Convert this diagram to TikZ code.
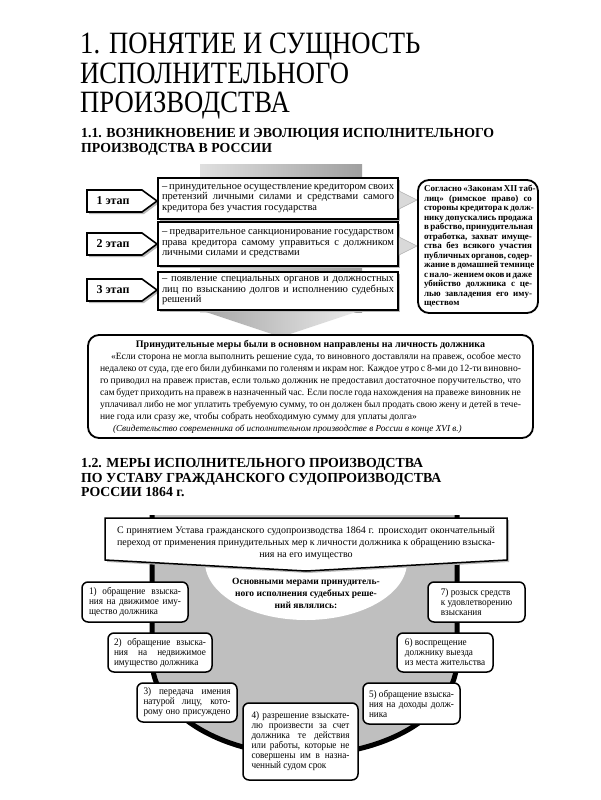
\documentclass[tikz,border=0pt]{standalone}
\usepackage{fontspec}
\setmainfont{Liberation Serif}
\newfontfamily\titlefont[FakeStretch=0.86]{Liberation Serif}
\newfontfamily\narrowfont[FakeStretch=0.92]{Liberation Serif}
\usetikzlibrary{shadows}
\newcommand\tbx[2]{\vbox{\hsize=#1pt\lineskiplimit=-100pt\relax #2}}
\newcommand\jline[1]{\hbox to\hsize{#1}}
\newcommand\eline[1]{\hbox{#1}}
\newcommand\centline[1]{\hbox to\hsize{\hfil#1\hfil}}
\begin{document}
\begin{tikzpicture}[x=1pt,y=-1pt,
  title/.style={anchor=base west,inner sep=0pt,font=\titlefont\fontsize{31}{31}\selectfont},
  head/.style={anchor=base west,inner sep=0pt,font=\bfseries\fontsize{13.8}{14}\selectfont},
  shad/.style={drop shadow={shadow xshift=2pt,shadow yshift=-2pt,fill=gray!55,opacity=1}},
  tbox/.style={draw,line width=1.4pt,fill=white,inner sep=0pt,font=\fontsize{10.5}{10.5}\selectfont,shad},
  stagebox/.style={draw,line width=1.6pt,fill=white,line join=miter,shad},
  stagetext/.style={inner sep=0pt,font=\bfseries\fontsize{12}{12}\selectfont},
  tri/.style={fill=gray!30,draw=gray!60,line width=0.5pt},
  rbox/.style={draw,line width=1.8pt,rounded corners=11pt,fill=white,inner sep=0pt},
  sbox/.style={draw,line width=1.5pt,rounded corners=6pt,fill=white,inner sep=0pt,font=\narrowfont\fontsize{10}{10}\selectfont},
  plain/.style={inner sep=0pt},
]
\useasboundingbox (0,0) rectangle (600,800);
\fill[white] (0,0) rectangle (600,800);

% headings
\node[title] (t1) at (80,53) {1. ПОНЯТИЕ И СУЩНОСТЬ};
\node[title] (t2) at (80,83) {ИСПОЛНИТЕЛЬНОГО};
\node[title] (t3) at (80,112) {ПРОИЗВОДСТВА};
\node[head] (h1) at (81,137) {1.1. ВОЗНИКНОВЕНИЕ И ЭВОЛЮЦИЯ ИСПОЛНИТЕЛЬНОГО};
\node[head] (h2) at (81,152) {ПРОИЗВОДСТВА В РОССИИ};
\node[head] (h3) at (81,467) {1.2. МЕРЫ ИСПОЛНИТЕЛЬНОГО ПРОИЗВОДСТВА};
\node[head] (h4) at (81,482) {ПО УСТАВУ ГРАЖДАНСКОГО СУДОПРОИЗВОДСТВА};
\node[head] (h5) at (81,496) {РОССИИ 1864 г.};

% ---------- section 1 ----------
\shade[left color=gray!25,right color=gray!75] (200,164) rectangle (362,312);
\shade[left color=gray!70,right color=gray!15] (200,310) -- (362,310) -- (281,337) -- cycle;

\path[stagebox] (87,190) -- (142,190) -- (157,201) -- (142,212) -- (87,212) -- cycle;
\node[stagetext] (s1) at (113,201) {1 этап};
\path[stagebox] (87,233) -- (142,233) -- (157,244) -- (142,255) -- (87,255) -- cycle;
\node[stagetext] (s2) at (113,244) {2 этап};
\path[stagebox] (87,279) -- (142,279) -- (157,290) -- (142,301) -- (87,301) -- cycle;
\node[stagetext] (s3) at (113,290) {3 этап};

\node[tbox,minimum width=240,minimum height=41] (e1) at (278,198.5) {\tbx{232}{%
\jline{– принудительное осуществление кредитором своих}
\jline{претензий личными силами и средствами самого}
\eline{кредитора без участия государства}}};
\node[tbox,minimum width=240,minimum height=44] (e2) at (278,244) {\tbx{232}{%
\jline{– предварительное санкционирование государством}
\jline{права кредитора самому управиться с должником}
\eline{личными силами и средствами}}};
\node[tbox,minimum width=240,minimum height=38] (e3) at (278,291) {\tbx{232}{%
\jline{– появление специальных органов и должностных}
\jline{лиц по взысканию долгов и исполнению судебных}
\eline{решений}}};

\path[tri] (399,191) -- (417,200) -- (399,209) -- cycle;
\path[tri] (399,237) -- (417,246) -- (399,255) -- cycle;

\node[rbox,minimum width=120,minimum height=133,font=\bfseries\fontsize{9}{9.5}\selectfont] (rb) at (478,246.5) {\tbx{108}{%
\jline{Согласно «Законам XII таб-}
\jline{лиц» (римское право) со}
\jline{стороны кредитора к долж-}
\jline{нику допускались продажа}
\jline{в рабство, принудительная}
\jline{отработка, захват имуще-}
\jline{ства без всякого участия}
\jline{публичных органов, содер-}
\jline{жание в домашней темнице}
\jline{с нало- жением оков и даже}
\jline{убийство должника с це-}
\jline{лью завладения его иму-}
\eline{ществом}}};

\node[rbox,minimum width=445,minimum height=103,font=\fontsize{9.6}{12}\selectfont] (bb) at (310.5,386.5) {\tbx{421}{%
\centline{\fontsize{10}{12}\selectfont\bfseries Принудительные меры были в основном направлены на личность должника}
\jline{\hspace*{11pt}«Если сторона не могла выполнить решение суда, то виновного доставляли на правеж, особое место}
\jline{недалеко от суда, где его били дубинками по голеням и икрам ног. Каждое утро с 8-ми до 12-ти виновно-}
\jline{го приводил на правеж пристав, если только должник не предоставил достаточное поручительство, что}
\jline{сам будет приходить на правеж в назначенный час. Если после года нахождения на правеже виновник не}
\jline{уплачивал либо не мог уплатить требуемую сумму, то он должен был продать свою жену и детей в тече-}
\eline{ние года или сразу же, чтобы собрать необходимую сумму для уплаты долга»}
\eline{\hspace*{13pt}\fontsize{9.2}{12}\selectfont\itshape (Свидетельство современника об исполнительном производстве в России в конце XVI в.)}}};

% ---------- section 2 ----------
\fill[gray!50] (152,515) -- (152,660) .. controls (152,712.5) and (220.3,755) .. (304.5,755) .. controls (388.7,755) and (457,712.5) .. (457,660) -- (457,515) -- cycle;
\fill[white] (205,540) -- (205,562) .. controls (205,594) and (250.2,620) .. (306,620) .. controls (361.8,620) and (407,594) .. (407,562) -- (407,540) -- cycle;
\draw[line width=5pt] (152,515) -- (152,660) .. controls (152,712.5) and (220.3,755) .. (304.5,755) .. controls (388.7,755) and (457,712.5) .. (457,660) -- (457,515);

\path[draw,line width=1.5pt,fill=white,line join=miter,shad] (105,518) -- (507,518) -- (507,560) -- (306,571) -- (105,560) -- cycle;
\node[plain,font=\fontsize{10}{11.7}\selectfont] (bn) at (306,543) {\tbx{378}{%
\jline{С принятием Устава гражданского судопроизводства 1864 г. происходит окончательный}
\jline{переход от применения принудительных мер к личности должника к обращению взыска-}
\centline{ния на его имущество}}};

\node[plain,font=\bfseries\fontsize{9.5}{12}\selectfont] (inr) at (306,593) {\tbx{160}{%
\centline{Основными мерами принудитель-}
\centline{ного исполнения судебных реше-}
\centline{ний являлись:}}};

\node[sbox,minimum width=106,minimum height=40] (m1) at (135,602) {\tbx{92}{%
\jline{1) обращение взыска-}
\jline{ния на движимое иму-}
\eline{щество должника}}};
\node[sbox,minimum width=104,minimum height=39] (m2) at (160,652.5) {\tbx{92}{%
\jline{2) обращение взыска-}
\jline{ния на недвижимое}
\eline{имущество должника}}};
\node[sbox,minimum width=100,minimum height=39] (m3) at (187,702.5) {\tbx{87}{%
\jline{3) передача имения}
\jline{натурой лицу, кото-}
\jline{рому оно присуждено}}};
\node[sbox,minimum width=115,minimum height=77] (m4) at (300.5,741.5) {\tbx{98}{%
\jline{4) разрешение взыскате-}
\jline{лю произвести за счет}
\jline{должника те действия}
\jline{или работы, которые не}
\jline{совершены им в назна-}
\eline{ченный судом срок}}};
\node[sbox,minimum width=97,minimum height=41] (m5) at (411.5,703.5) {\tbx{85}{%
\jline{5) обращение взыска-}
\jline{ния на доходы долж-}
\eline{ника}}};
\node[sbox,minimum width=96,minimum height=39] (m6) at (445,652.5) {\tbx{82}{%
\eline{6) воспрещение}
\eline{должнику выезда}
\eline{из места жительства}}};
\node[sbox,minimum width=97,minimum height=40] (m7) at (476.5,602) {\tbx{80}{%
\eline{7) розыск средств}
\eline{к удовлетворению}
\eline{взыскания}}};
\end{tikzpicture}
\end{document}
